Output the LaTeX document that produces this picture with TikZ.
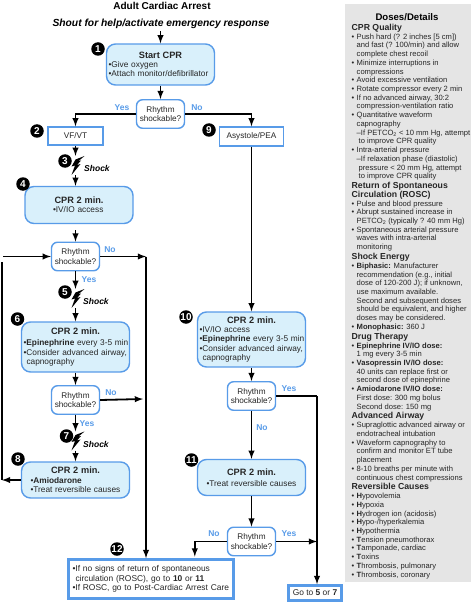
\documentclass[tikz,border=0pt]{standalone}
\usepackage{fontspec}
\setmainfont{Liberation Sans}
\definecolor{boxblue}{RGB}{217, 240, 251}
\definecolor{lineblue}{RGB}{88, 155, 232}
\definecolor{panelgray}{RGB}{229, 229, 229}
\definecolor{textgray}{RGB}{38, 38, 38}
\tikzset{
  flow/.style={-latex, line width=1.8pt, black},
  flowline/.style={line width=1.8pt, black},
  cprbox/.style={draw=lineblue, fill=boxblue, line width=1.4pt, rounded corners=9pt,
    minimum width=108pt, text width=104pt, inner sep=0pt, align=left, text=textgray,
    font=\fontsize{8.3}{9.3}\selectfont},
  rhythmbox/.style={draw=lineblue, fill=white, line width=1.4pt, rounded corners=6pt,
    minimum width=48pt, minimum height=28.5pt, inner sep=0pt, align=center, text=textgray,
    font=\fontsize{8.2}{9.3}\selectfont},
  plainbox/.style={draw=lineblue, fill=white, line width=1.4pt, inner sep=0pt, text=textgray,
    font=\fontsize{8.2}{9.3}\selectfont},
  finalbox/.style={plainbox, line width=2.8pt, font=\fontsize{8.4}{9.5}\selectfont},
  numdot/.style={circle, fill=black, text=white, inner sep=0pt, minimum size=13.5pt,
    font=\bfseries\fontsize{10}{10}\selectfont},
  answer/.style={text=lineblue, inner sep=0pt, font=\bfseries\fontsize{8.5}{9}\selectfont},
  shocktext/.style={inner sep=0pt, font=\bfseries\itshape\fontsize{8.5}{9}\selectfont},
  shockbolt/.style={inner sep=0pt, minimum width=18pt, minimum height=19pt, path picture={
    \fill[black, shift={(path picture bounding box.center)}] (9,-9.5) -- (0,-6) -- (-4,1)
      -- (-0.5,0) -- (-4,9.5) -- (5,-1.5) -- (1.5,-0.5) -- (5.5,-5) -- (3,-4.5) -- cycle;}},
}
\newcommand{\cprhead}[1]{\makebox[\hsize][c]{\bfseries\fontsize{9.2}{9.3}\selectfont #1}}
\newcommand{\doseitem}{\makebox[5pt][l]{\textbullet}}
\newcommand{\dosehead}[1]{{\bfseries\fontsize{8.7}{8.72}\selectfont #1}}
\begin{document}
\begin{tikzpicture}[x=1pt, y=-1pt]
  \useasboundingbox (0,0) rectangle (474,604);

  % titles
  \node[inner sep=0pt, font=\bfseries\fontsize{10}{11}\selectfont] (title) at (162,6) {Adult Cardiac Arrest};
  \node[inner sep=0pt, font=\bfseries\itshape\fontsize{10.3}{11}\selectfont] (shout) at (161,24) {Shout for help/activate emergency response};

  % left column
  \node[cprbox, minimum height=41pt] (start) at (160.5,64.5) {\cprhead{Start CPR}\\\textbullet Give oxygen\\\mbox{\textbullet Attach monitor/defibrillator}};
  \node[rhythmbox] (rhythmA) at (160.5,114) {Rhythm\\shockable?};
  \node[plainbox, minimum width=55pt, minimum height=18pt] (vfvt) at (75.5,136) {VF/VT};
  \node[shockbolt] (boltA) at (75.5,165.5) {};
  \node[shocktext, anchor=west] (shockA) at (84,168) {Shock};
  \node[cprbox, minimum height=37pt] (cprA) at (79,205) {\cprhead{CPR 2 min.}\\\hspace*{26pt}\textbullet IV/IO access};
  \node[rhythmbox] (rhythmB) at (75.5,256.5) {Rhythm\\shockable?};
  \node[shockbolt] (boltB) at (75.5,298.5) {};
  \node[shocktext, anchor=west] (shockB) at (83,301) {Shock};
  \node[cprbox, minimum height=50pt] (cprB) at (75.5,347) {\cprhead{CPR 2 min.}\\[2pt]\mbox{\textbullet\textbf{Epinephrine} every 3-5 min}\\\mbox{\textbullet Consider advanced airway,}\\\hspace*{3pt}capnography};
  \node[rhythmbox] (rhythmC) at (75.5,400) {Rhythm\\shockable?};
  \node[shockbolt] (boltC) at (75.5,441) {};
  \node[shocktext, anchor=west] (shockC) at (83,444) {Shock};
  \node[cprbox, minimum height=36pt] (cprC) at (75.5,480) {\cprhead{CPR 2 min.}\\\hspace*{7pt}\textbullet\textbf{Amiodarone}\\\hspace*{7pt}\textbullet Treat reversible causes};

  % right column
  \node[plainbox, minimum width=64pt, minimum height=19pt] (asystole) at (251.5,136.5) {Asystole/PEA};
  \node[cprbox, minimum height=55pt] (cprD) at (251.5,339.5) {\cprhead{CPR 2 min.}\\\textbullet IV/IO access\\\mbox{\textbullet\textbf{Epinephrine} every 3-5 min}\\\mbox{\textbullet Consider advanced airway,}\\\hspace*{3pt}capnography};
  \node[rhythmbox] (rhythmD) at (251.5,396) {Rhythm\\shockable?};
  \node[cprbox, minimum height=36pt] (cprE) at (251.5,477.5) {\cprhead{CPR 2 min.}\\[2pt]\hspace*{7pt}\textbullet Treat reversible causes};
  \node[rhythmbox] (rhythmE) at (251.5,541.5) {Rhythm\\shockable?};

  % end boxes
  \node[finalbox, minimum width=165pt, minimum height=39pt, text width=157pt, align=left] (final) at (151,579) {\textbullet If no signs of return of spontaneous\\\hspace*{3pt}circulation (ROSC), go to \textbf{10} or \textbf{11}\\\textbullet If ROSC, go to Post-Cardiac Arrest Care};
  \node[finalbox, minimum width=53pt, minimum height=15pt] (goto) at (315,593) {Go to \textbf{5} or \textbf{7}};

  % help coordinates
  \coordinate (loopin) at (3,256.5);
  \coordinate (looptop) at (2,262);
  \coordinate (loopbot) at (2,480);
  \coordinate (noB) at (146,256.5);
  \coordinate (noC) at (143,399);
  \coordinate (yesD) at (317,396);
  \coordinate (yesE) at (317,541.5);

  % arrows
  \draw[flow] (shout.south -| start.north) ++(0,2) -- (start.north);
  \draw[flow] (start.south) -- (rhythmA.north);
  \draw[flow] (rhythmA.west) -| (vfvt.north);
  \draw[flow] (rhythmA.east) -| (asystole.north);
  \draw[flow] (vfvt.south) -- (boltA.north);
  \draw[flow] (boltA.south) -- (boltA.south |- cprA.north);
  \draw[flow] (rhythmB.north |- cprA.south) ++(0,6) -- (rhythmB.north);
  \draw[flow] (rhythmB.south) -- (boltB.north);
  \draw[flow] (boltB.south) -- (cprB.north);
  \draw[flow] (cprB.south) -- (rhythmC.north);
  \draw[flow] (rhythmC.south) -- (boltC.north);
  \draw[flow] (boltC.south) -- (cprC.north);
  \draw[flow] (loopin) -- (rhythmB.west);
  \draw[flow] (rhythmB.east) -- (noB);
  \draw[flow] (rhythmC.east) -- (noC);
  \draw[flow] (cprC.west) -- (loopbot);
  \draw[flowline] (looptop) -- (loopbot);
  \draw[flow] (noB) -- (noB |- final.north);
  \draw[flow] (asystole.south) -- (cprD.north);
  \draw[flow] (cprD.south) -- (rhythmD.north);
  \draw[flow] (rhythmD.south) -- (cprE.north);
  \draw[flow] (cprE.south) -- (rhythmE.north);
  \draw[flowline] (rhythmD.east) -- (yesD);
  \draw[flow] (yesD) -- (yesD |- goto.north);
  \draw[flow] (rhythmE.east) -- (yesE);
  \draw[flow] (rhythmE.west) -- ++(-32,0) -- ++(0,15);

  % numbered dots
  \foreach \n/\x/\y in {1/98/49, 2/37/131, 3/65/161, 4/23/184, 5/65/292, 6/17.5/319, 7/66.5/436,
      8/18/459, 9/209/130, 10/186/317, 11/191.5/460, 12/117/549}
    \node[numdot] (num\n) at (\x,\y) {\n};

  % yes and no labels
  \foreach \t/\x/\y/\m in {Yes/122/108/a, No/197/108/b, No/110/250/c, Yes/89/280/d, No/111/393/e, Yes/87/424/f,
      Yes/289/389/g, No/262/428/h, No/214/534/i, Yes/289/534/j}
    \node[answer] (label\m) at (\x,\y) {\t};

  % side panel
  \fill[panelgray] (345,4) rectangle (471,582);
  \node[inner sep=0pt, font=\bfseries\fontsize{9.6}{10}\selectfont] (doses) at (407,17) {Doses/Details};
  \node[anchor=north west, inner sep=0pt, align=left, text=textgray, font=\fontsize{7.6}{8.72}\selectfont] (details) at (351.5,24) {%
    \dosehead{CPR Quality}\\
    \doseitem Push hard (? 2 inches [5 cm])\\
    \hspace*{5pt}and fast (? 100/min) and allow\\
    \hspace*{5pt}complete chest recoil\\
    \doseitem Minimize interruptions in\\
    \hspace*{5pt}compressions\\
    \doseitem Avoid excessive ventilation\\
    \doseitem Rotate compressor every 2 min\\
    \doseitem If no advanced airway, 30:2\\
    \hspace*{5pt}compression-ventilation ratio\\
    \doseitem Quantitative waveform\\
    \hspace*{5pt}capnography\\
    \hspace*{5pt}–If PETCO\textsubscript{2} < 10 mm Hg, attempt\\
    \hspace*{7pt}to improve CPR quality\\
    \doseitem Intra-arterial pressure\\
    \hspace*{5pt}–If relaxation phase (diastolic)\\
    \hspace*{7pt}pressure < 20 mm Hg, attempt\\
    \hspace*{7pt}to improve CPR quality\\[1.2pt]
    \dosehead{Return of Spontaneous}\\
    \dosehead{Circulation (ROSC)}\\
    \doseitem Pulse and blood pressure\\
    \doseitem Abrupt sustained increase in\\
    \hspace*{5pt}PETCO\textsubscript{2} (typically ? 40 mm Hg)\\
    \doseitem Spontaneous arterial pressure\\
    \hspace*{5pt}waves with intra-arterial\\
    \hspace*{5pt}monitoring\\[1.2pt]
    \dosehead{Shock Energy}\\
    \doseitem\textbf{Biphasic:} Manufacturer\\
    \hspace*{5pt}recommendation (e.g., initial\\
    \hspace*{5pt}dose of 120-200 J); if unknown,\\
    \hspace*{5pt}use maximum available.\\
    \hspace*{5pt}Second and subsequent doses\\
    \hspace*{5pt}should be equivalent, and higher\\
    \hspace*{5pt}doses may be considered.\\
    \doseitem\textbf{Monophasic:} 360 J\\[1.2pt]
    \dosehead{Drug Therapy}\\
    \doseitem\textbf{Epinephrine IV/IO dose:}\\
    \hspace*{5pt}1 mg every 3-5 min\\
    \doseitem\textbf{Vasopressin IV/IO dose:}\\
    \hspace*{5pt}40 units can replace first or\\
    \hspace*{5pt}second dose of epinephrine\\
    \doseitem\textbf{Amiodarone IV/IO dose:}\\
    \hspace*{5pt}First dose: 300 mg bolus\\
    \hspace*{5pt}Second dose: 150 mg\\[1.2pt]
    \dosehead{Advanced Airway}\\
    \doseitem Supraglottic advanced airway or\\
    \hspace*{5pt}endotracheal intubation\\
    \doseitem Waveform capnography to\\
    \hspace*{5pt}confirm and monitor ET tube\\
    \hspace*{5pt}placement\\
    \doseitem 8-10 breaths per minute with\\
    \hspace*{5pt}continuous chest compressions\\[1.2pt]
    \dosehead{Reversible Causes}\\
    \doseitem\textbf{H}ypovolemia\\
    \doseitem\textbf{H}ypoxia\\
    \doseitem\textbf{H}ydrogen ion (acidosis)\\
    \doseitem\textbf{H}ypo-/hyperkalemia\\
    \doseitem\textbf{H}ypothermia\\
    \doseitem\textbf{T}ension pneumothorax\\
    \doseitem\textbf{T}amponade, cardiac\\
    \doseitem\textbf{T}oxins\\
    \doseitem\textbf{T}hrombosis, pulmonary\\
    \doseitem\textbf{T}hrombosis, coronary};
\end{tikzpicture}
\end{document}
